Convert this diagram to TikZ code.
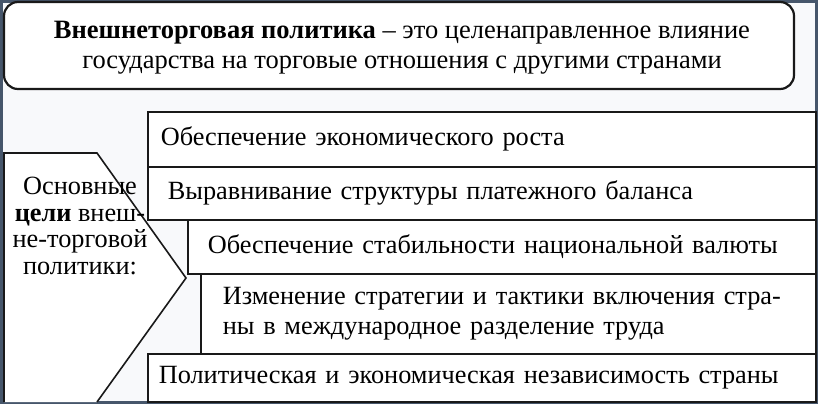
\documentclass[tikz,border=0pt]{standalone}
\usepackage{fontspec}
\setmainfont{Liberation Serif}
\usetikzlibrary{positioning}
\definecolor{framecol}{HTML}{46566B}
\definecolor{paper}{HTML}{F8F9FB}
\newcommand{\Cel}{\textbf{цели}}

\begin{document}
\begin{tikzpicture}[x=1pt, y=-1pt,
  rowbox/.style={draw=black!90, line width=1.6pt, fill=white, anchor=north west,
                 align=left, inner xsep=0pt, inner ysep=0pt,
                 font=\fontsize{26.3}{30}\selectfont},
  deftext/.style={align=center, font=\fontsize{26.5}{30}\selectfont}]
%\draw [help lines] (0,0) grid (818,404);

\useasboundingbox (0,0) rectangle (818,404);
\fill[paper] (0,0) rectangle (818,404);
\draw[framecol, line width=3pt] (1.5,1.5) rectangle (816.5,402.5);

% Definition
\draw[black!90, line width=2.2pt, rounded corners=14pt, fill=white] (4,2) rectangle (794,89);
\node[deftext] (def) at (402,48) {\textbf{Внешнеторговая политика} – это целенаправленное влияние\\
  государства на торговые отношения с другими странами};

% Goals
\node[rowbox, minimum width=668pt, minimum height=55pt, text width=668pt] (g1) at (147,111)
  {\hspace*{13pt}Обеспечение экономического роста};
\node[rowbox, minimum width=668pt, minimum height=53pt, text width=668pt] (g2) at (147,166)
  {\hspace*{20pt}Выравнивание структуры платежного баланса};
\node[rowbox, minimum width=628pt, minimum height=54pt, text width=628pt] (g3) at (187,219)
  {\hspace*{20pt}Обеспечение стабильности национальной валюты};
\node[rowbox, minimum width=615pt, minimum height=80pt, text width=615pt] (g4) at (200,273)
  {\hspace*{22pt}Изменение стратегии и тактики включения стра-\\
   \hspace*{22pt}ны в международное разделение труда};
\node[rowbox, minimum width=668pt, minimum height=48pt, text width=668pt] (g5) at (147,353)
  {\hspace*{11pt}Политическая и экономическая независимость страны};

% Arrow
\coordinate (p1) at (4,153);
\coordinate (p2) at (97,153);
\coordinate (tip) at (186,278);
\coordinate (p3) at (97,402);
\coordinate (p4) at (4,402);
\draw[black!90, line width=1.6pt, fill=white] (p4) -- (p1) -- (p2) -- (tip) -- (p3);
\node[deftext, font=\fontsize{26.3}{26.5}\selectfont] (goals) at (80,226)
  {Основные\\ \Cel{} внеш-\\ не-торговой\\ политики:};
\end{tikzpicture}
\end{document}
